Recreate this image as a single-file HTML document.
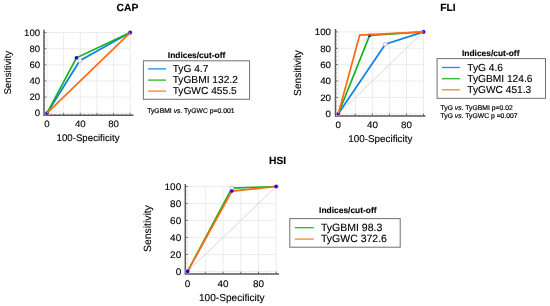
<!DOCTYPE html>
<html><head><meta charset="utf-8"><title>ROC curves</title>
<style>
html,body{margin:0;padding:0;background:#fff;width:550px;height:306px;overflow:hidden}
svg{display:block}
text{font-family:"Liberation Sans",Arial,sans-serif;fill:#000;stroke:#000;stroke-width:0.12px;text-rendering:geometricPrecision}
text.n{stroke-width:0.18px}
</style></head><body>
<svg width="550" height="306" viewBox="0 0 550 306">
<rect width="550" height="306" fill="#fff"/>
<g>
<line x1="47" y1="113.2" x2="47" y2="32.6" stroke="#ececec" stroke-width="1"/>
<line x1="47" y1="113.2" x2="130.2" y2="113.2" stroke="#ececec" stroke-width="1"/>
<line x1="63.64" y1="113.2" x2="63.64" y2="32.6" stroke="#ececec" stroke-width="1"/>
<line x1="47" y1="97.08" x2="130.2" y2="97.08" stroke="#ececec" stroke-width="1"/>
<line x1="80.28" y1="113.2" x2="80.28" y2="32.6" stroke="#ececec" stroke-width="1"/>
<line x1="47" y1="80.96" x2="130.2" y2="80.96" stroke="#ececec" stroke-width="1"/>
<line x1="96.92" y1="113.2" x2="96.92" y2="32.6" stroke="#ececec" stroke-width="1"/>
<line x1="47" y1="64.84" x2="130.2" y2="64.84" stroke="#ececec" stroke-width="1"/>
<line x1="113.56" y1="113.2" x2="113.56" y2="32.6" stroke="#ececec" stroke-width="1"/>
<line x1="47" y1="48.72" x2="130.2" y2="48.72" stroke="#ececec" stroke-width="1"/>
<line x1="130.2" y1="113.2" x2="130.2" y2="32.6" stroke="#ececec" stroke-width="1"/>
<line x1="47" y1="32.6" x2="130.2" y2="32.6" stroke="#ececec" stroke-width="1"/>
<line x1="44" y1="29.8" x2="44" y2="115.6" stroke="#5a5a5a" stroke-width="1.5"/>
<line x1="43.5" y1="115.3" x2="133.5" y2="115.3" stroke="#5a5a5a" stroke-width="1.5"/>
<line x1="44" y1="113.2" x2="46.4" y2="113.2" stroke="#5a5a5a" stroke-width="0.9"/>
<line x1="47" y1="115.3" x2="47" y2="112.9" stroke="#5a5a5a" stroke-width="0.9"/>
<line x1="44" y1="109.17" x2="44.9" y2="109.17" stroke="#5a5a5a" stroke-width="0.9"/>
<line x1="51.16" y1="115.3" x2="51.16" y2="114.4" stroke="#5a5a5a" stroke-width="0.9"/>
<line x1="44" y1="105.14" x2="44.9" y2="105.14" stroke="#5a5a5a" stroke-width="0.9"/>
<line x1="55.32" y1="115.3" x2="55.32" y2="114.4" stroke="#5a5a5a" stroke-width="0.9"/>
<line x1="44" y1="101.11" x2="44.9" y2="101.11" stroke="#5a5a5a" stroke-width="0.9"/>
<line x1="59.48" y1="115.3" x2="59.48" y2="114.4" stroke="#5a5a5a" stroke-width="0.9"/>
<line x1="44" y1="97.08" x2="46.4" y2="97.08" stroke="#5a5a5a" stroke-width="0.9"/>
<line x1="63.64" y1="115.3" x2="63.64" y2="112.9" stroke="#5a5a5a" stroke-width="0.9"/>
<line x1="44" y1="93.05" x2="44.9" y2="93.05" stroke="#5a5a5a" stroke-width="0.9"/>
<line x1="67.8" y1="115.3" x2="67.8" y2="114.4" stroke="#5a5a5a" stroke-width="0.9"/>
<line x1="44" y1="89.02" x2="44.9" y2="89.02" stroke="#5a5a5a" stroke-width="0.9"/>
<line x1="71.96" y1="115.3" x2="71.96" y2="114.4" stroke="#5a5a5a" stroke-width="0.9"/>
<line x1="44" y1="84.99" x2="44.9" y2="84.99" stroke="#5a5a5a" stroke-width="0.9"/>
<line x1="76.12" y1="115.3" x2="76.12" y2="114.4" stroke="#5a5a5a" stroke-width="0.9"/>
<line x1="44" y1="80.96" x2="46.4" y2="80.96" stroke="#5a5a5a" stroke-width="0.9"/>
<line x1="80.28" y1="115.3" x2="80.28" y2="112.9" stroke="#5a5a5a" stroke-width="0.9"/>
<line x1="44" y1="76.93" x2="44.9" y2="76.93" stroke="#5a5a5a" stroke-width="0.9"/>
<line x1="84.44" y1="115.3" x2="84.44" y2="114.4" stroke="#5a5a5a" stroke-width="0.9"/>
<line x1="44" y1="72.9" x2="44.9" y2="72.9" stroke="#5a5a5a" stroke-width="0.9"/>
<line x1="88.6" y1="115.3" x2="88.6" y2="114.4" stroke="#5a5a5a" stroke-width="0.9"/>
<line x1="44" y1="68.87" x2="44.9" y2="68.87" stroke="#5a5a5a" stroke-width="0.9"/>
<line x1="92.76" y1="115.3" x2="92.76" y2="114.4" stroke="#5a5a5a" stroke-width="0.9"/>
<line x1="44" y1="64.84" x2="46.4" y2="64.84" stroke="#5a5a5a" stroke-width="0.9"/>
<line x1="96.92" y1="115.3" x2="96.92" y2="112.9" stroke="#5a5a5a" stroke-width="0.9"/>
<line x1="44" y1="60.81" x2="44.9" y2="60.81" stroke="#5a5a5a" stroke-width="0.9"/>
<line x1="101.08" y1="115.3" x2="101.08" y2="114.4" stroke="#5a5a5a" stroke-width="0.9"/>
<line x1="44" y1="56.78" x2="44.9" y2="56.78" stroke="#5a5a5a" stroke-width="0.9"/>
<line x1="105.24" y1="115.3" x2="105.24" y2="114.4" stroke="#5a5a5a" stroke-width="0.9"/>
<line x1="44" y1="52.75" x2="44.9" y2="52.75" stroke="#5a5a5a" stroke-width="0.9"/>
<line x1="109.4" y1="115.3" x2="109.4" y2="114.4" stroke="#5a5a5a" stroke-width="0.9"/>
<line x1="44" y1="48.72" x2="46.4" y2="48.72" stroke="#5a5a5a" stroke-width="0.9"/>
<line x1="113.56" y1="115.3" x2="113.56" y2="112.9" stroke="#5a5a5a" stroke-width="0.9"/>
<line x1="44" y1="44.69" x2="44.9" y2="44.69" stroke="#5a5a5a" stroke-width="0.9"/>
<line x1="117.72" y1="115.3" x2="117.72" y2="114.4" stroke="#5a5a5a" stroke-width="0.9"/>
<line x1="44" y1="40.66" x2="44.9" y2="40.66" stroke="#5a5a5a" stroke-width="0.9"/>
<line x1="121.88" y1="115.3" x2="121.88" y2="114.4" stroke="#5a5a5a" stroke-width="0.9"/>
<line x1="44" y1="36.63" x2="44.9" y2="36.63" stroke="#5a5a5a" stroke-width="0.9"/>
<line x1="126.04" y1="115.3" x2="126.04" y2="114.4" stroke="#5a5a5a" stroke-width="0.9"/>
<line x1="44" y1="32.6" x2="46.4" y2="32.6" stroke="#5a5a5a" stroke-width="0.9"/>
<line x1="130.2" y1="115.3" x2="130.2" y2="112.9" stroke="#5a5a5a" stroke-width="0.9"/>
<rect x="45.3" y="111.5" width="3.4" height="3.4" rx="0.3" fill="#fff" stroke="#d0a8d4" stroke-width="0.8"/>
<rect x="128.5" y="30.9" width="3.4" height="3.4" rx="0.3" fill="#fff" stroke="#d0a8d4" stroke-width="0.8"/>
<polyline points="47,113.2 79.78,60.73 130.2,32.6" fill="none" stroke="#1080e8" stroke-width="1.7" stroke-linejoin="miter"/>
<rect x="78.08" y="59.03" width="3.4" height="3.4" rx="0.3" fill="#fff" stroke="#d0a8d4" stroke-width="0.8"/>
<polyline points="47,113.2 76.45,57.83 130.2,32.6" fill="none" stroke="#14b41e" stroke-width="1.7" stroke-linejoin="miter"/>
<circle cx="76.45" cy="57.83" r="1.8" fill="#1a00ee"/>
<circle cx="47" cy="113.2" r="1.8" fill="#1a00ee"/>
<circle cx="130.2" cy="32.6" r="1.8" fill="#1a00ee"/>
<polyline points="47,113.2 130.2,32.6" fill="none" stroke="#ff6a12" stroke-width="1.7" stroke-linejoin="miter"/>
<text transform="translate(40.2,116.49) scale(1.05,1)" font-size="9.2" text-anchor="end">0</text>
<text transform="translate(40.2,100.37) scale(1.05,1)" font-size="9.2" text-anchor="end">20</text>
<text transform="translate(40.2,84.25) scale(1.05,1)" font-size="9.2" text-anchor="end">40</text>
<text transform="translate(40.2,68.13) scale(1.05,1)" font-size="9.2" text-anchor="end">60</text>
<text transform="translate(40.2,52.01) scale(1.05,1)" font-size="9.2" text-anchor="end">80</text>
<text transform="translate(40.2,35.89) scale(1.05,1)" font-size="9.2" text-anchor="end">100</text>
<text transform="translate(47,126.8) scale(1.05,1)" font-size="9.2" text-anchor="middle">0</text>
<text transform="translate(80.28,126.8) scale(1.05,1)" font-size="9.2" text-anchor="middle">40</text>
<text transform="translate(113.56,126.8) scale(1.05,1)" font-size="9.2" text-anchor="middle">80</text>
<text x="56.5" y="140.7" font-size="9.7">100-Specificity</text>
<text transform="translate(10.6,94.6) rotate(-90)" font-size="9.7">Sensitivity</text>
<text x="116.6" y="10.9" font-size="10.3" font-weight="bold">CAP</text>
<rect x="143.4" y="60.8" width="106.2" height="38.5" fill="none" stroke="#707070" stroke-width="1"/>
<text x="167.8" y="57.8" font-size="8.42" font-weight="bold">Indices/cut-off</text>
<line x1="148" y1="68.9" x2="166" y2="68.9" stroke="#1f8aee" stroke-width="1.3"/>
<text x="172.7" y="72.15" font-size="10.2">TyG 4.7</text>
<line x1="148" y1="80.1" x2="166" y2="80.1" stroke="#22bb2a" stroke-width="1.3"/>
<text x="172.7" y="83.35" font-size="10.2">TyGBMI 132.2</text>
<line x1="148" y1="91.1" x2="166" y2="91.1" stroke="#ff8232" stroke-width="1.3"/>
<text x="172.7" y="94.35" font-size="10.2">TyGWC 455.5</text>
<text class="n" x="147.2" y="112.7" font-size="6.8">TyGBMI <tspan font-style="italic">vs.</tspan> TyGWC p=0.001</text>
</g>
<g>
<line x1="338.3" y1="113.8" x2="338.3" y2="31.9" stroke="#ececec" stroke-width="1"/>
<line x1="338.3" y1="113.8" x2="423.5" y2="113.8" stroke="#ececec" stroke-width="1"/>
<line x1="355.34" y1="113.8" x2="355.34" y2="31.9" stroke="#ececec" stroke-width="1"/>
<line x1="338.3" y1="97.42" x2="423.5" y2="97.42" stroke="#ececec" stroke-width="1"/>
<line x1="372.38" y1="113.8" x2="372.38" y2="31.9" stroke="#ececec" stroke-width="1"/>
<line x1="338.3" y1="81.04" x2="423.5" y2="81.04" stroke="#ececec" stroke-width="1"/>
<line x1="389.42" y1="113.8" x2="389.42" y2="31.9" stroke="#ececec" stroke-width="1"/>
<line x1="338.3" y1="64.66" x2="423.5" y2="64.66" stroke="#ececec" stroke-width="1"/>
<line x1="406.46" y1="113.8" x2="406.46" y2="31.9" stroke="#ececec" stroke-width="1"/>
<line x1="338.3" y1="48.28" x2="423.5" y2="48.28" stroke="#ececec" stroke-width="1"/>
<line x1="423.5" y1="113.8" x2="423.5" y2="31.9" stroke="#ececec" stroke-width="1"/>
<line x1="338.3" y1="31.9" x2="423.5" y2="31.9" stroke="#ececec" stroke-width="1"/>
<line x1="338.3" y1="113.8" x2="423.5" y2="31.9" stroke="#d8ccd0" stroke-width="0.8"/>
<line x1="335.5" y1="29" x2="335.5" y2="116.4" stroke="#5a5a5a" stroke-width="1.5"/>
<line x1="335" y1="116" x2="425.5" y2="116" stroke="#5a5a5a" stroke-width="1.5"/>
<line x1="335.5" y1="113.8" x2="337.9" y2="113.8" stroke="#5a5a5a" stroke-width="0.9"/>
<line x1="338.3" y1="116" x2="338.3" y2="113.6" stroke="#5a5a5a" stroke-width="0.9"/>
<line x1="335.5" y1="109.7" x2="336.4" y2="109.7" stroke="#5a5a5a" stroke-width="0.9"/>
<line x1="342.56" y1="116" x2="342.56" y2="115.1" stroke="#5a5a5a" stroke-width="0.9"/>
<line x1="335.5" y1="105.61" x2="336.4" y2="105.61" stroke="#5a5a5a" stroke-width="0.9"/>
<line x1="346.82" y1="116" x2="346.82" y2="115.1" stroke="#5a5a5a" stroke-width="0.9"/>
<line x1="335.5" y1="101.52" x2="336.4" y2="101.52" stroke="#5a5a5a" stroke-width="0.9"/>
<line x1="351.08" y1="116" x2="351.08" y2="115.1" stroke="#5a5a5a" stroke-width="0.9"/>
<line x1="335.5" y1="97.42" x2="337.9" y2="97.42" stroke="#5a5a5a" stroke-width="0.9"/>
<line x1="355.34" y1="116" x2="355.34" y2="113.6" stroke="#5a5a5a" stroke-width="0.9"/>
<line x1="335.5" y1="93.32" x2="336.4" y2="93.32" stroke="#5a5a5a" stroke-width="0.9"/>
<line x1="359.6" y1="116" x2="359.6" y2="115.1" stroke="#5a5a5a" stroke-width="0.9"/>
<line x1="335.5" y1="89.23" x2="336.4" y2="89.23" stroke="#5a5a5a" stroke-width="0.9"/>
<line x1="363.86" y1="116" x2="363.86" y2="115.1" stroke="#5a5a5a" stroke-width="0.9"/>
<line x1="335.5" y1="85.13" x2="336.4" y2="85.13" stroke="#5a5a5a" stroke-width="0.9"/>
<line x1="368.12" y1="116" x2="368.12" y2="115.1" stroke="#5a5a5a" stroke-width="0.9"/>
<line x1="335.5" y1="81.04" x2="337.9" y2="81.04" stroke="#5a5a5a" stroke-width="0.9"/>
<line x1="372.38" y1="116" x2="372.38" y2="113.6" stroke="#5a5a5a" stroke-width="0.9"/>
<line x1="335.5" y1="76.94" x2="336.4" y2="76.94" stroke="#5a5a5a" stroke-width="0.9"/>
<line x1="376.64" y1="116" x2="376.64" y2="115.1" stroke="#5a5a5a" stroke-width="0.9"/>
<line x1="335.5" y1="72.85" x2="336.4" y2="72.85" stroke="#5a5a5a" stroke-width="0.9"/>
<line x1="380.9" y1="116" x2="380.9" y2="115.1" stroke="#5a5a5a" stroke-width="0.9"/>
<line x1="335.5" y1="68.75" x2="336.4" y2="68.75" stroke="#5a5a5a" stroke-width="0.9"/>
<line x1="385.16" y1="116" x2="385.16" y2="115.1" stroke="#5a5a5a" stroke-width="0.9"/>
<line x1="335.5" y1="64.66" x2="337.9" y2="64.66" stroke="#5a5a5a" stroke-width="0.9"/>
<line x1="389.42" y1="116" x2="389.42" y2="113.6" stroke="#5a5a5a" stroke-width="0.9"/>
<line x1="335.5" y1="60.56" x2="336.4" y2="60.56" stroke="#5a5a5a" stroke-width="0.9"/>
<line x1="393.68" y1="116" x2="393.68" y2="115.1" stroke="#5a5a5a" stroke-width="0.9"/>
<line x1="335.5" y1="56.47" x2="336.4" y2="56.47" stroke="#5a5a5a" stroke-width="0.9"/>
<line x1="397.94" y1="116" x2="397.94" y2="115.1" stroke="#5a5a5a" stroke-width="0.9"/>
<line x1="335.5" y1="52.38" x2="336.4" y2="52.38" stroke="#5a5a5a" stroke-width="0.9"/>
<line x1="402.2" y1="116" x2="402.2" y2="115.1" stroke="#5a5a5a" stroke-width="0.9"/>
<line x1="335.5" y1="48.28" x2="337.9" y2="48.28" stroke="#5a5a5a" stroke-width="0.9"/>
<line x1="406.46" y1="116" x2="406.46" y2="113.6" stroke="#5a5a5a" stroke-width="0.9"/>
<line x1="335.5" y1="44.18" x2="336.4" y2="44.18" stroke="#5a5a5a" stroke-width="0.9"/>
<line x1="410.72" y1="116" x2="410.72" y2="115.1" stroke="#5a5a5a" stroke-width="0.9"/>
<line x1="335.5" y1="40.09" x2="336.4" y2="40.09" stroke="#5a5a5a" stroke-width="0.9"/>
<line x1="414.98" y1="116" x2="414.98" y2="115.1" stroke="#5a5a5a" stroke-width="0.9"/>
<line x1="335.5" y1="35.99" x2="336.4" y2="35.99" stroke="#5a5a5a" stroke-width="0.9"/>
<line x1="419.24" y1="116" x2="419.24" y2="115.1" stroke="#5a5a5a" stroke-width="0.9"/>
<line x1="335.5" y1="31.9" x2="337.9" y2="31.9" stroke="#5a5a5a" stroke-width="0.9"/>
<line x1="423.5" y1="116" x2="423.5" y2="113.6" stroke="#5a5a5a" stroke-width="0.9"/>
<rect x="336.6" y="112.1" width="3.4" height="3.4" rx="0.3" fill="#fff" stroke="#d0a8d4" stroke-width="0.8"/>
<rect x="421.8" y="30.2" width="3.4" height="3.4" rx="0.3" fill="#fff" stroke="#d0a8d4" stroke-width="0.8"/>
<polyline points="338.3,113.8 385.33,44.27 423.5,31.9" fill="none" stroke="#1080e8" stroke-width="1.7" stroke-linejoin="miter"/>
<rect x="383.63" y="42.57" width="3.4" height="3.4" rx="0.3" fill="#fff" stroke="#d0a8d4" stroke-width="0.8"/>
<polyline points="338.3,113.8 369.65,35.34 423.5,31.9" fill="none" stroke="#14b41e" stroke-width="1.7" stroke-linejoin="miter"/>
<circle cx="369.65" cy="35.34" r="1.8" fill="#1a00ee"/>
<circle cx="338.3" cy="113.8" r="1.8" fill="#1a00ee"/>
<circle cx="423.5" cy="31.9" r="1.8" fill="#1a00ee"/>
<polyline points="338.3,113.8 359.69,35.18 423.5,31.9" fill="none" stroke="#ff6a12" stroke-width="1.7" stroke-linejoin="miter"/>
<text transform="translate(331,117.13) scale(1.05,1)" font-size="9.3" text-anchor="end">0</text>
<text transform="translate(331,100.75) scale(1.05,1)" font-size="9.3" text-anchor="end">20</text>
<text transform="translate(331,84.37) scale(1.05,1)" font-size="9.3" text-anchor="end">40</text>
<text transform="translate(331,67.99) scale(1.05,1)" font-size="9.3" text-anchor="end">60</text>
<text transform="translate(331,51.61) scale(1.05,1)" font-size="9.3" text-anchor="end">80</text>
<text transform="translate(331,35.23) scale(1.05,1)" font-size="9.3" text-anchor="end">100</text>
<text transform="translate(338.3,128.3) scale(1.05,1)" font-size="9.3" text-anchor="middle">0</text>
<text transform="translate(372.38,128.3) scale(1.05,1)" font-size="9.3" text-anchor="middle">40</text>
<text transform="translate(406.46,128.3) scale(1.05,1)" font-size="9.3" text-anchor="middle">80</text>
<text x="348.2" y="142.2" font-size="9.9">100-Specificity</text>
<text transform="translate(300.6,95.9) rotate(-90)" font-size="10.2">Sensitivity</text>
<text x="440.2" y="10.9" font-size="10.3" font-weight="bold">FLI</text>
<rect x="437.1" y="58.6" width="108.4" height="39.7" fill="none" stroke="#707070" stroke-width="1"/>
<text x="462" y="56.4" font-size="8.42" font-weight="bold">Indices/cut-off</text>
<line x1="442" y1="67.5" x2="459.8" y2="67.5" stroke="#1f8aee" stroke-width="1.3"/>
<text x="467.3" y="70.75" font-size="10.2">TyG 4.6</text>
<line x1="442" y1="78.7" x2="459.8" y2="78.7" stroke="#22bb2a" stroke-width="1.3"/>
<text x="467.3" y="81.95" font-size="10.2">TyGBMI 124.6</text>
<line x1="442" y1="89.8" x2="459.8" y2="89.8" stroke="#ff8232" stroke-width="1.3"/>
<text x="467.3" y="93.05" font-size="10.2">TyGWC 451.3</text>
<text class="n" x="440.5" y="109.8" font-size="6.8">TyG <tspan font-style="italic">vs.</tspan> TyGBMI p=0.02</text>
<text class="n" x="440.5" y="117.9" font-size="6.8">TyG <tspan font-style="italic">vs.</tspan> TyGWC p =0.007</text>
</g>
<g>
<line x1="187.6" y1="271.4" x2="187.6" y2="186.5" stroke="#ececec" stroke-width="1"/>
<line x1="187.6" y1="271.4" x2="276.2" y2="271.4" stroke="#ececec" stroke-width="1"/>
<line x1="205.32" y1="271.4" x2="205.32" y2="186.5" stroke="#ececec" stroke-width="1"/>
<line x1="187.6" y1="254.42" x2="276.2" y2="254.42" stroke="#ececec" stroke-width="1"/>
<line x1="223.04" y1="271.4" x2="223.04" y2="186.5" stroke="#ececec" stroke-width="1"/>
<line x1="187.6" y1="237.44" x2="276.2" y2="237.44" stroke="#ececec" stroke-width="1"/>
<line x1="240.76" y1="271.4" x2="240.76" y2="186.5" stroke="#ececec" stroke-width="1"/>
<line x1="187.6" y1="220.46" x2="276.2" y2="220.46" stroke="#ececec" stroke-width="1"/>
<line x1="258.48" y1="271.4" x2="258.48" y2="186.5" stroke="#ececec" stroke-width="1"/>
<line x1="187.6" y1="203.48" x2="276.2" y2="203.48" stroke="#ececec" stroke-width="1"/>
<line x1="276.2" y1="271.4" x2="276.2" y2="186.5" stroke="#ececec" stroke-width="1"/>
<line x1="187.6" y1="186.5" x2="276.2" y2="186.5" stroke="#ececec" stroke-width="1"/>
<line x1="187.6" y1="271.4" x2="276.2" y2="186.5" stroke="#d8ccd0" stroke-width="0.8"/>
<line x1="185.3" y1="183.9" x2="185.3" y2="274.4" stroke="#5a5a5a" stroke-width="1.5"/>
<line x1="185" y1="274" x2="279" y2="274" stroke="#5a5a5a" stroke-width="1.5"/>
<line x1="185.3" y1="271.4" x2="187.7" y2="271.4" stroke="#5a5a5a" stroke-width="0.9"/>
<line x1="187.6" y1="274" x2="187.6" y2="271.6" stroke="#5a5a5a" stroke-width="0.9"/>
<line x1="185.3" y1="267.15" x2="186.2" y2="267.15" stroke="#5a5a5a" stroke-width="0.9"/>
<line x1="192.03" y1="274" x2="192.03" y2="273.1" stroke="#5a5a5a" stroke-width="0.9"/>
<line x1="185.3" y1="262.91" x2="186.2" y2="262.91" stroke="#5a5a5a" stroke-width="0.9"/>
<line x1="196.46" y1="274" x2="196.46" y2="273.1" stroke="#5a5a5a" stroke-width="0.9"/>
<line x1="185.3" y1="258.66" x2="186.2" y2="258.66" stroke="#5a5a5a" stroke-width="0.9"/>
<line x1="200.89" y1="274" x2="200.89" y2="273.1" stroke="#5a5a5a" stroke-width="0.9"/>
<line x1="185.3" y1="254.42" x2="187.7" y2="254.42" stroke="#5a5a5a" stroke-width="0.9"/>
<line x1="205.32" y1="274" x2="205.32" y2="271.6" stroke="#5a5a5a" stroke-width="0.9"/>
<line x1="185.3" y1="250.17" x2="186.2" y2="250.17" stroke="#5a5a5a" stroke-width="0.9"/>
<line x1="209.75" y1="274" x2="209.75" y2="273.1" stroke="#5a5a5a" stroke-width="0.9"/>
<line x1="185.3" y1="245.93" x2="186.2" y2="245.93" stroke="#5a5a5a" stroke-width="0.9"/>
<line x1="214.18" y1="274" x2="214.18" y2="273.1" stroke="#5a5a5a" stroke-width="0.9"/>
<line x1="185.3" y1="241.69" x2="186.2" y2="241.69" stroke="#5a5a5a" stroke-width="0.9"/>
<line x1="218.61" y1="274" x2="218.61" y2="273.1" stroke="#5a5a5a" stroke-width="0.9"/>
<line x1="185.3" y1="237.44" x2="187.7" y2="237.44" stroke="#5a5a5a" stroke-width="0.9"/>
<line x1="223.04" y1="274" x2="223.04" y2="271.6" stroke="#5a5a5a" stroke-width="0.9"/>
<line x1="185.3" y1="233.19" x2="186.2" y2="233.19" stroke="#5a5a5a" stroke-width="0.9"/>
<line x1="227.47" y1="274" x2="227.47" y2="273.1" stroke="#5a5a5a" stroke-width="0.9"/>
<line x1="185.3" y1="228.95" x2="186.2" y2="228.95" stroke="#5a5a5a" stroke-width="0.9"/>
<line x1="231.9" y1="274" x2="231.9" y2="273.1" stroke="#5a5a5a" stroke-width="0.9"/>
<line x1="185.3" y1="224.7" x2="186.2" y2="224.7" stroke="#5a5a5a" stroke-width="0.9"/>
<line x1="236.33" y1="274" x2="236.33" y2="273.1" stroke="#5a5a5a" stroke-width="0.9"/>
<line x1="185.3" y1="220.46" x2="187.7" y2="220.46" stroke="#5a5a5a" stroke-width="0.9"/>
<line x1="240.76" y1="274" x2="240.76" y2="271.6" stroke="#5a5a5a" stroke-width="0.9"/>
<line x1="185.3" y1="216.22" x2="186.2" y2="216.22" stroke="#5a5a5a" stroke-width="0.9"/>
<line x1="245.19" y1="274" x2="245.19" y2="273.1" stroke="#5a5a5a" stroke-width="0.9"/>
<line x1="185.3" y1="211.97" x2="186.2" y2="211.97" stroke="#5a5a5a" stroke-width="0.9"/>
<line x1="249.62" y1="274" x2="249.62" y2="273.1" stroke="#5a5a5a" stroke-width="0.9"/>
<line x1="185.3" y1="207.72" x2="186.2" y2="207.72" stroke="#5a5a5a" stroke-width="0.9"/>
<line x1="254.05" y1="274" x2="254.05" y2="273.1" stroke="#5a5a5a" stroke-width="0.9"/>
<line x1="185.3" y1="203.48" x2="187.7" y2="203.48" stroke="#5a5a5a" stroke-width="0.9"/>
<line x1="258.48" y1="274" x2="258.48" y2="271.6" stroke="#5a5a5a" stroke-width="0.9"/>
<line x1="185.3" y1="199.24" x2="186.2" y2="199.24" stroke="#5a5a5a" stroke-width="0.9"/>
<line x1="262.91" y1="274" x2="262.91" y2="273.1" stroke="#5a5a5a" stroke-width="0.9"/>
<line x1="185.3" y1="194.99" x2="186.2" y2="194.99" stroke="#5a5a5a" stroke-width="0.9"/>
<line x1="267.34" y1="274" x2="267.34" y2="273.1" stroke="#5a5a5a" stroke-width="0.9"/>
<line x1="185.3" y1="190.75" x2="186.2" y2="190.75" stroke="#5a5a5a" stroke-width="0.9"/>
<line x1="271.77" y1="274" x2="271.77" y2="273.1" stroke="#5a5a5a" stroke-width="0.9"/>
<line x1="185.3" y1="186.5" x2="187.7" y2="186.5" stroke="#5a5a5a" stroke-width="0.9"/>
<line x1="276.2" y1="274" x2="276.2" y2="271.6" stroke="#5a5a5a" stroke-width="0.9"/>
<rect x="185.9" y="269.7" width="3.4" height="3.4" rx="0.3" fill="#fff" stroke="#d0a8d4" stroke-width="0.8"/>
<rect x="274.5" y="184.8" width="3.4" height="3.4" rx="0.3" fill="#fff" stroke="#d0a8d4" stroke-width="0.8"/>
<polyline points="187.6,271.4 231.9,188.11 276.2,186.5" fill="none" stroke="#14b41e" stroke-width="1.7" stroke-linejoin="miter"/>
<rect x="230.2" y="186.41" width="3.4" height="3.4" rx="0.3" fill="#fff" stroke="#d0a8d4" stroke-width="0.8"/>
<polyline points="187.6,271.4 231.9,191.08 276.2,186.5" fill="none" stroke="#ff6a12" stroke-width="1.7" stroke-linejoin="miter"/>
<circle cx="231.9" cy="191.08" r="1.8" fill="#1a00ee"/>
<circle cx="187.6" cy="271.4" r="1.8" fill="#1a00ee"/>
<circle cx="276.2" cy="186.5" r="1.8" fill="#1a00ee"/>
<text transform="translate(181.2,274.8) scale(1.05,1)" font-size="9.5" text-anchor="end">0</text>
<text transform="translate(181.2,257.82) scale(1.05,1)" font-size="9.5" text-anchor="end">20</text>
<text transform="translate(181.2,240.84) scale(1.05,1)" font-size="9.5" text-anchor="end">40</text>
<text transform="translate(181.2,223.86) scale(1.05,1)" font-size="9.5" text-anchor="end">60</text>
<text transform="translate(181.2,206.88) scale(1.05,1)" font-size="9.5" text-anchor="end">80</text>
<text transform="translate(181.2,189.9) scale(1.05,1)" font-size="9.5" text-anchor="end">100</text>
<text transform="translate(187.6,286.6) scale(1.05,1)" font-size="9.5" text-anchor="middle">0</text>
<text transform="translate(223.04,286.6) scale(1.05,1)" font-size="9.5" text-anchor="middle">40</text>
<text transform="translate(258.48,286.6) scale(1.05,1)" font-size="9.5" text-anchor="middle">80</text>
<text x="199" y="300.6" font-size="10.1">100-Specificity</text>
<text transform="translate(150.9,252) rotate(-90)" font-size="10.4">Sensitivity</text>
<text x="269" y="163.5" font-size="10.3" font-weight="bold">HSI</text>
<rect x="289.8" y="218.6" width="110.4" height="28.6" fill="none" stroke="#707070" stroke-width="1"/>
<text x="319.1" y="213.4" font-size="8.42" font-weight="bold">Indices/cut-off</text>
<line x1="294.8" y1="227.7" x2="313.8" y2="227.7" stroke="#22bb2a" stroke-width="1.3"/>
<text x="321" y="231.06" font-size="10.5">TyGBMI 98.3</text>
<line x1="294.8" y1="239.1" x2="313.8" y2="239.1" stroke="#ff8232" stroke-width="1.3"/>
<text x="321" y="242.46" font-size="10.5">TyGWC 372.6</text>
</g>
</svg>
</body></html>
